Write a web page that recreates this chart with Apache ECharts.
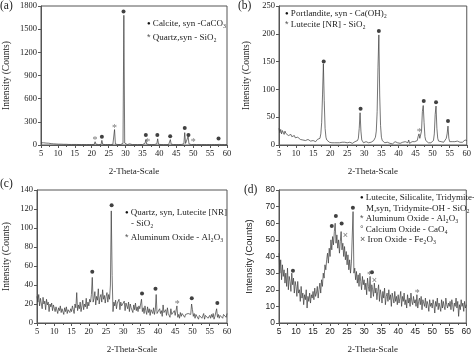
<!DOCTYPE html>
<html><head><meta charset="utf-8">
<script src="https://cdn.jsdelivr.net/npm/echarts@6/dist/echarts.min.js"></script>
<style>html,body{margin:0;padding:0;background:#fff}#c{width:474px;height:355px}</style>
</head><body><div id="c"></div>
<script>
// scan sampling (2-theta, degrees)
const X0 = 5, DX = 0.25;
const xTicks = [5,10,15,20,25,30,35,40,45,50,55,60];

// (a) intensities, 5..60 step 0.25
const aInt = [
28,30,27,29,26,28,25,24,22,23,20,19,18,19,16,15,16,14,13,12,
12,11,12,10,11,9,10,9,10,8,9,8,9,7,8,8,7,8,7,7,
7,6,7,6,7,6,6,7,6,5,6,6,5,6,5,6,5,6,5,6,
6,5,6,8,42,10,6,5,6,5,6,6,60,9,5,6,5,6,5,6,
6,5,6,5,6,8,9,200,12,5,6,6,5,6,6,7,9,20,1680,25,
10,7,6,6,5,15,6,6,5,6,5,6,5,6,5,6,5,6,5,6,
6,6,7,20,70,12,30,8,6,5,6,5,6,5,6,6,7,15,80,10,
6,5,6,5,6,5,6,6,5,6,6,7,15,70,10,6,5,6,5,6,
6,5,6,6,5,6,7,8,9,15,160,20,8,12,110,15,7,6,5,6,
25,8,8,6,5,6,5,6,5,6,5,6,5,6,5,6,5,6,5,6,
5,6,5,6,5,6,5,6,6,10,30,8,5,6,5,6,5,6,5,6,
5];
const aDots = [[23,106],[29.4,1730],[36,130],[39.4,130],[43.2,114],[47.5,220],[48.6,130],[57.5,84]];
const aStars = [[21,88],[26.7,240],[36.6,64],[50,66]];

// (b)
const bInt = [
30,22,28,20,26,24,19,25,21,18,23,17,20,16,19,15,18,14,17,13,
15,12,14,11,13,10,12,11,9,12,10,8,11,9,10,8,9,7,10,8,
8,7,9,6,8,10,7,9,12,20,40,90,146,80,30,14,9,7,6,5,
5,6,4,5,6,4,5,7,4,5,6,4,5,3,5,6,4,5,3,5,
4,6,3,5,4,6,3,5,4,6,5,7,8,12,30,58,25,9,6,4,
5,3,6,4,5,4,6,5,5,6,7,8,10,14,25,60,140,198,90,35,
14,8,6,5,4,6,3,5,4,6,3,5,4,2,5,4,6,3,5,4,
4,5,3,6,4,5,3,4,6,3,5,4,9,3,5,4,6,4,5,6,
5,6,8,15,20,12,10,25,60,71,40,15,8,6,5,4,5,6,4,5,
6,8,20,55,70,30,12,7,5,4,6,5,4,5,6,8,12,20,34,12,
6,5,4,6,5,3,6,4,5,7,4,6,5,4,6,5,8,6,9,7,
8];
const bDots = [[18.1,150],[28.9,65],[34.25,205],[47.4,79],[51,77],[54.5,43]];
const bStars = [[46.1,26]];

// (c)
const cInt = [
28,22,30,18,26,24,15,27,20,23,14,25,19,22,12,20,17,21,13,19,
18,12,17,15,10,16,13,18,11,15,14,9,16,12,17,10,14,13,11,15,
12,18,14,10,20,16,32,13,19,15,22,12,18,24,14,20,17,26,15,22,
18,25,22,30,48,22,26,33,19,28,24,36,20,27,30,22,35,25,29,21,
28,32,22,30,25,40,118,50,12,22,18,24,15,21,19,25,14,22,18,20,
17,23,13,21,19,15,22,12,20,16,18,11,19,14,21,13,17,12,18,15,
14,25,12,16,10,18,13,9,17,11,15,8,14,12,10,16,9,14,30,10,
12,8,15,10,13,7,19,11,9,14,8,16,10,12,6,15,9,11,7,13,
8,10,18,6,9,5,11,7,10,8,12,6,9,11,7,10,8,12,9,20,
14,7,10,5,9,7,11,4,8,6,9,5,7,10,4,8,6,9,5,7,
8,5,9,6,10,4,7,8,15,6,9,5,8,6,10,5,9,7,11,6,
10];
const cDots = [[21,54],[26.6,124],[35.4,31],[39.3,36],[49.8,26],[57.2,21]];
const cStars = [[45.6,22]];

// (d)
const dInt = [
42,30,38,26,35,28,32,24,30,22,33,20,28,25,19,30,23,27,18,25,
22,16,25,18,20,13,22,15,18,11,17,14,20,9,16,13,18,12,17,15,
19,14,21,16,18,22,15,20,24,18,26,22,30,27,35,32,38,42,36,45,
40,50,44,52,47,55,60,48,53,45,50,42,49,55,44,48,40,46,38,43,
35,41,32,38,30,36,35,67,30,33,26,31,24,29,22,30,25,20,28,23,
26,20,24,17,27,22,19,28,15,23,20,16,24,18,21,14,19,23,13,20,
17,12,19,15,21,11,16,18,13,20,14,17,10,18,15,12,19,13,16,11,
17,12,15,19,10,16,13,18,11,14,9,17,12,15,10,18,13,11,16,12,
14,10,17,9,13,15,11,16,8,14,12,10,15,9,13,11,7,14,10,12,
9,14,11,6,13,10,15,8,12,11,7,14,9,13,10,8,15,11,9,12,
10,13,8,14,11,7,12,10,15,9,13,4,11,8,14,10,12,7,13,9,
11];
const dDots = [[9.1,31.5],[20.5,58.4],[21.7,64.3],[23.4,59.8],[26.7,69.3],[32.3,30.5]];
const dStars = [[31.6,30],[45.6,19]];
const dCross = [[24.5,52.7],[33,25.6]];
const dDeg = [[34,26.5]];

const yMax = [1800, 250, 140, 80];
const yStep = [300, 50, 20, 10];

const SERIF = '"Liberation Serif","Times New Roman",serif';
const SANS = '"Liberation Sans",Arial,sans-serif';
const pts = arr => arr.map((v,i)=>[X0+DX*i, v]);

const grids = [
  {left:36, right:247, top:6, bottom:210},
  {left:279, right:6, top:6, bottom:210},
  {left:36, right:247, top:190, bottom:25},
  {left:279, right:5, top:190, bottom:25}
].map(g=>Object.assign({show:true, borderColor:'#555', borderWidth:1, backgroundColor:'transparent'}, g));

const yNameGap = [30, 28, 26, 25];
const xAxes = [], yAxes = [];
for (let k=0;k<4;k++){
  const font = k===3 ? SANS : SERIF;
  xAxes.push({type:'value', gridIndex:k, min:5, max:60, interval:5,
    name:'2-Theta-Scale', nameLocation:'middle', nameGap:22,
    nameTextStyle:{fontFamily:SERIF, fontSize:9, color:'#222'},
    axisLine:{lineStyle:{color:'#555', width:1}},
    axisTick:{length:3, inside:false, lineStyle:{color:'#555'}},
    minorTick:{show:true, splitNumber:2, length:2, lineStyle:{color:'#555'}},
    axisLabel:{fontFamily:font, fontSize:8.5, color:'#222', margin:4, showMinLabel:true, showMaxLabel:true,
      hideOverlap:false, formatter:v=>String(v)},
    splitLine:{show:false}});
  yAxes.push({type:'value', gridIndex:k, min:0, max:yMax[k], interval:yStep[k],
    name:'Intensity (Counts)', nameLocation:'middle', nameGap:yNameGap[k],
    nameTextStyle:{fontFamily:k===3?SANS:SERIF, fontSize:9.5, color:'#222'},
    axisLine:{show:true, lineStyle:{color:'#555', width:1}},
    axisTick:{show:true, length:3, lineStyle:{color:'#555'}},
    axisLabel:{fontFamily:font, fontSize:8.5, color:'#222', margin:4, showMinLabel:true, showMaxLabel:true,
      hideOverlap:false, formatter:v=>String(v)},
    splitLine:{show:false}});
}

const series = [];
const ints = [aInt,bInt,cInt,dInt];
const dots = [aDots,bDots,cDots,dDots];
const stars = [aStars,bStars,cStars,dStars];
for (let k=0;k<4;k++){
  series.push({type:'line', xAxisIndex:k, yAxisIndex:k, data:pts(ints[k]), symbol:'none',
    lineStyle:{color:'#3a3a3a', width:0.7}, silent:true});
  series.push({type:'scatter', xAxisIndex:k, yAxisIndex:k, data:dots[k], symbol:'circle', symbolSize:4,
    itemStyle:{color:'#111'}});
  series.push({type:'scatter', xAxisIndex:k, yAxisIndex:k, data:stars[k], symbol:'circle', symbolSize:0.1,
    itemStyle:{color:'rgba(0,0,0,0)'},
    label:{show:true, position:'inside', formatter:'*', fontFamily:SERIF, fontSize:10, color:'#555', offset:[0,2]}});
}
series.push({type:'scatter', xAxisIndex:3, yAxisIndex:3, data:dCross, symbol:'circle', symbolSize:0.1,
  itemStyle:{color:'rgba(0,0,0,0)'},
  label:{show:true, position:'inside', formatter:'×', fontFamily:SANS, fontSize:9, color:'#555'}});
series.push({type:'scatter', xAxisIndex:3, yAxisIndex:3, data:dDeg, symbol:'emptyCircle', symbolSize:3,
  itemStyle:{color:'#fff', borderColor:'#666', borderWidth:0.8}});

function txt(x,y,t,size,fam){
  return {type:'text', left:x, top:y, z:100, style:{text:t, fontFamily:fam||SERIF, fontSize:size||9, fill:'#222',
    rich:{d:{fontSize:6, fill:'#111'}, s:{fontSize:9, fill:'#555'}}}};
}
const graphic = [
  txt(0,0,'(a)',11.5), txt(238,0,'(b)',11.5), txt(0,178,'(c)',11.5), txt(244,184,'(d)',11.5),
  txt(147,19,'{d|●} Calcite, syn -CaCO₃'),
  txt(147,33,'{s|*} Quartz,syn - SiO₂'),
  txt(285,9,'{d|●} Portlandite, syn - Ca(OH)₂'),
  txt(285,20,'{s|*} Lutecite [NR] - SiO₂'),
  txt(125,208,'{d|●} Quartz, syn, Lutecite [NR]'),
  txt(131,219,'- SiO₂'),
  txt(125,233,'{s|*} Aluminum Oxide - Al₂O₃'),
  txt(360,193,'{d|●} Lutecite, Silicalite, Tridymite-'),
  txt(366,204,'M,syn, Tridymite-OH - SiO₂'),
  txt(360,214,'{s|*} Aluminum Oxide - Al₂O₃'),
  txt(360,225,'{s|°} Calcium Oxide - CaO₄'),
  txt(360,235,'{s|×} Iron Oxide - Fe₂O₃')
];

const chart = echarts.init(document.getElementById('c'), null, {renderer:'canvas'});
chart.setOption({animation:false, grid:grids, xAxis:xAxes, yAxis:yAxes, series:series, graphic:graphic});
</script></body></html>
